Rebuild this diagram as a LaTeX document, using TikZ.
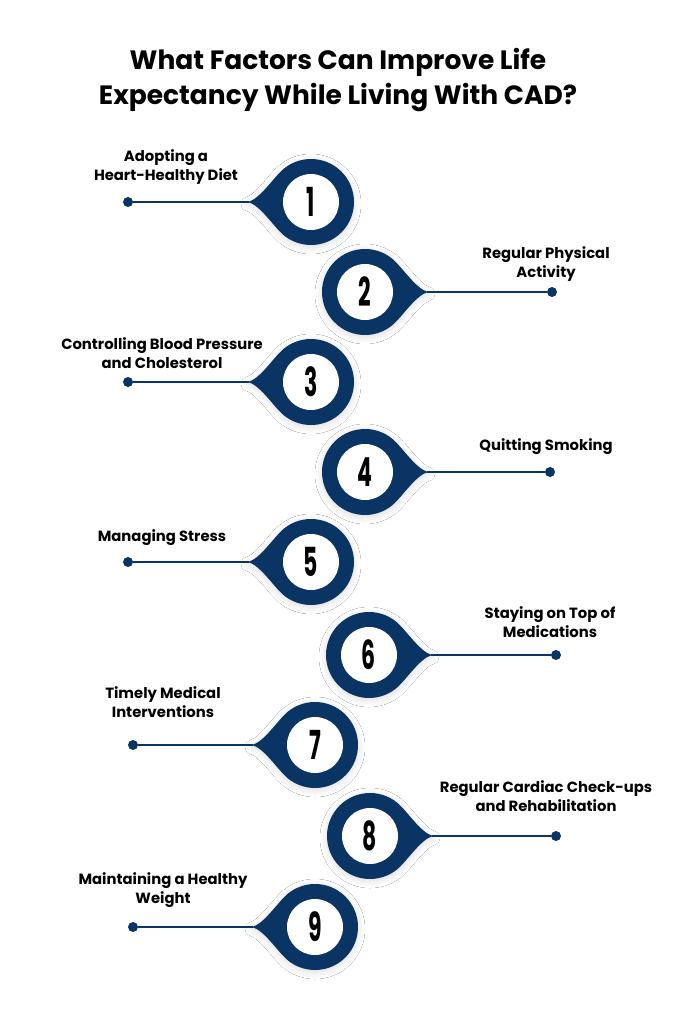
\documentclass[tikz,border=0pt]{standalone}
\usepackage{fontspec}
\setmainfont{Poppins}
\usepackage{tikz}
\usetikzlibrary{shadows.blur}
\definecolor{navy}{RGB}{10,52,99}

\begin{document}
\begin{tikzpicture}[x=1pt,y=1pt,
  droplet/.pic={
    \fill[navy,blur shadow={shadow blur radius=7pt,shadow blur steps=12,shadow xshift=0pt,shadow yshift=-2pt,shadow opacity=14}]
      (-63,0) .. controls (-51,3) and (-37,25) .. (130:43)
      arc[start angle=130,end angle=-130,radius=43]
      .. controls (-37,-25) and (-51,-3) .. cycle;
  },
  num/.style={circle,fill=white,minimum size=56pt,inner sep=0pt,font=\fontsize{40}{40}\selectfont\bfseries},
  dot/.style={circle,fill=navy,minimum size=10pt,inner sep=0pt},
  link/.style={navy,line width=2.6pt},
  label/.style={align=center,text=black,font=\fontsize{14.8}{18.5}\selectfont\bfseries}]
\fill[white] (0,0) rectangle (676,-1024);
\useasboundingbox (0,0) rectangle (676,-1024);

\node[align=center,font=\fontsize{26.5}{35}\selectfont\bfseries] (title) at (338,-80)
  {What Factors Can Improve Life\\Expectancy While Living With CAD?};

% 1
\pic at (311,-202) {droplet};
\coordinate (t1) at (249,-202);
\node[dot] (d1) at (128,-202) {};
\draw[link] (t1) -- (d1);
\node[num] (n1) at (311,-202) {\scalebox{0.55}[1]{1}};
\node[label] (l1) at (166,-167) {Adopting a\\Heart-Healthy Diet};

% 2
\pic[xscale=-1] at (365,-292) {droplet};
\coordinate (t2) at (427,-292);
\node[dot] (d2) at (552,-292) {};
\draw[link] (t2) -- (d2);
\node[num] (n2) at (365,-292) {\scalebox{0.55}[1]{2}};
\node[label] (l2) at (546,-264) {Regular Physical\\Activity};

% 3
\pic at (311,-382) {droplet};
\coordinate (t3) at (249,-382);
\node[dot] (d3) at (128,-382) {};
\draw[link] (t3) -- (d3);
\node[num] (n3) at (311,-382) {\scalebox{0.55}[1]{3}};
\node[label] (l3) at (162,-353) {Controlling Blood Pressure\\and Cholesterol};

% 4
\pic[xscale=-1] at (365,-472) {droplet};
\coordinate (t4) at (427,-472);
\node[dot] (d4) at (550,-472) {};
\draw[link] (t4) -- (d4);
\node[num] (n4) at (365,-472) {\scalebox{0.55}[1]{4}};
\node[label] (l4) at (546,-447) {Quitting Smoking};

% 5
\pic at (311,-562) {droplet};
\coordinate (t5) at (249,-562);
\node[dot] (d5) at (128,-562) {};
\draw[link] (t5) -- (d5);
\node[num] (n5) at (311,-562) {\scalebox{0.55}[1]{5}};
\node[label] (l5) at (162,-538) {Managing Stress};

% 6
\pic[xscale=-1] at (369,-655) {droplet};
\coordinate (t6) at (431,-655);
\node[dot] (d6) at (556,-655) {};
\draw[link] (t6) -- (d6);
\node[num] (n6) at (369,-655) {\scalebox{0.55}[1]{6}};
\node[label] (l6) at (550,-622) {Staying on Top of\\Medications};

% 7
\pic at (315,-745) {droplet};
\coordinate (t7) at (253,-745);
\node[dot] (d7) at (133,-745) {};
\draw[link] (t7) -- (d7);
\node[num] (n7) at (315,-745) {\scalebox{0.55}[1]{7}};
\node[label] (l7) at (163,-702) {Timely Medical\\Interventions};

% 8
\pic[xscale=-1] at (370,-836) {droplet};
\coordinate (t8) at (432,-836);
\node[dot] (d8) at (556,-836) {};
\draw[link] (t8) -- (d8);
\node[num] (n8) at (370,-836) {\scalebox{0.55}[1]{8}};
\node[label] (l8) at (546,-796) {Regular Cardiac Check-ups\\and Rehabilitation};

% 9
\pic at (315,-927) {droplet};
\coordinate (t9) at (253,-927);
\node[dot] (d9) at (133,-927) {};
\draw[link] (t9) -- (d9);
\node[num] (n9) at (315,-927) {\scalebox{0.55}[1]{9}};
\node[label] (l9) at (163,-890) {Maintaining a Healthy\\Weight};
\end{tikzpicture}
\end{document}
